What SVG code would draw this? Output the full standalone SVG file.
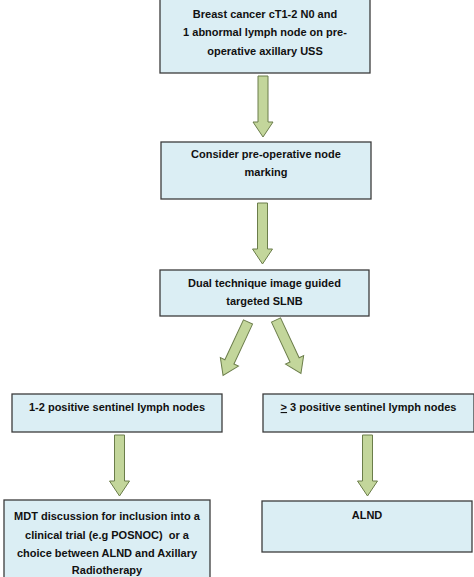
<svg xmlns="http://www.w3.org/2000/svg" width="474" height="577" viewBox="0 0 474 577">
<defs>
<style>
.box{fill:#dbeef4;stroke:#3c3c3c;stroke-width:1.3}
.arr{fill:#c3d69b;stroke:#6b7d4a;stroke-width:1}
.t{font-family:"Liberation Sans",Arial,sans-serif;font-weight:bold;font-size:11px;fill:#111;text-anchor:middle;white-space:pre}
</style>
<path id="ar" d="M-5,0 H5 V46 H10 L0,61 L-10,46 H-5 Z"/>
<path id="ard" d="M-5,0 H5 V44 H10 L0,59 L-10,44 H-5 Z"/>
</defs>
<rect width="474" height="577" fill="#ffffff"/>
<g id="connectors">
<use href="#ar" class="arr" transform="translate(263,76)"/>
<use href="#ar" class="arr" transform="translate(262.5,203)"/>
<use href="#ard" class="arr" transform="translate(248,322) rotate(25)"/>
<use href="#ard" class="arr" transform="translate(276,320) rotate(-25)"/>
<use href="#ar" class="arr" transform="translate(119.5,435)"/>
<use href="#ar" class="arr" transform="translate(367.5,435)"/>
</g>
<g id="n1">
<rect class="box" x="160" y="-2" width="210" height="75"/>
<text class="t" x="265" y="17.5">Breast cancer cT1-2 N0 and</text>
<text class="t" x="265" y="36">1 abnormal lymph node on pre-</text>
<text class="t" x="265" y="54.5">operative axillary USS</text>
</g>
<g id="n2">
<rect class="box" x="161" y="142" width="210" height="57"/>
<text class="t" x="266" y="158">Consider pre-operative node</text>
<text class="t" x="266" y="176">marking</text>
</g>
<g id="n3">
<rect class="box" x="160" y="270" width="209" height="46"/>
<text class="t" x="264.5" y="287">Dual technique image guided</text>
<text class="t" x="264.5" y="305">targeted SLNB</text>
</g>
<g id="n4">
<rect class="box" x="12" y="394" width="210" height="38"/>
<text class="t" x="117" y="411">1-2 positive sentinel lymph nodes</text>
</g>
<g id="n5">
<rect class="box" x="263" y="394" width="211" height="38"/>
<text class="t" x="368.5" y="411"><tspan text-decoration="underline">&gt;</tspan> 3 positive sentinel lymph nodes</text>
</g>
<g id="n6">
<rect class="box" x="4" y="500" width="206" height="82"/>
<text class="t" x="107" y="520">MDT discussion for inclusion into a</text>
<text class="t" x="107" y="538.5" xml:space="preserve">clinical trial (e.g POSNOC)  or a</text>
<text class="t" x="107" y="557">choice between ALND and Axillary</text>
<text class="t" x="107" y="574">Radiotherapy</text>
</g>
<g id="n7">
<rect class="box" x="262" y="501" width="210" height="51"/>
<text class="t" x="367" y="519">ALND</text>
</g>
</svg>
